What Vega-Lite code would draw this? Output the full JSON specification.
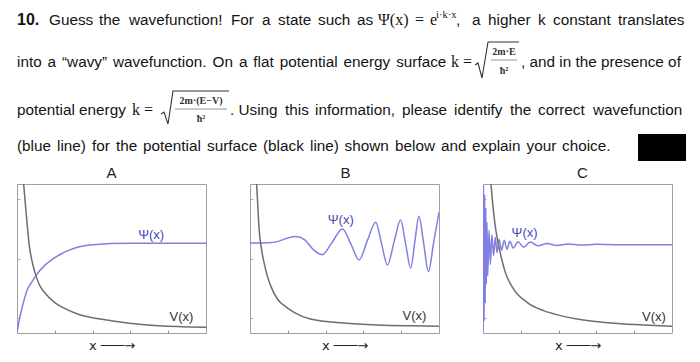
{
  "$schema": "https://vega.github.io/schema/vega-lite/v6.json",
  "padding": 0,
  "background": "white",
  "spacing": 0,
  "config": {"view": {"stroke": null}, "font": "Liberation Sans"},
  "datasets": {
    "sans": [
      {"x": 48, "y": 20, "t": "Guess"},
      {"x": 98, "y": 20, "t": "the"},
      {"x": 128, "y": 20, "t": "wavefunction!"},
      {"x": 230, "y": 20, "t": "For"},
      {"x": 261, "y": 20, "t": "a"},
      {"x": 277, "y": 20, "t": "state"},
      {"x": 317, "y": 20, "t": "such"},
      {"x": 356, "y": 20, "t": "as"},
      {"x": 455, "y": 20, "t": ","},
      {"x": 471, "y": 20, "t": "a"},
      {"x": 487, "y": 20, "t": "higher"},
      {"x": 537, "y": 20, "t": "k"},
      {"x": 552, "y": 20, "t": "constant"},
      {"x": 617, "y": 20, "t": "translates"},
      {"x": 16, "y": 62, "t": "into"},
      {"x": 46.6, "y": 62, "t": "a"},
      {"x": 61, "y": 62, "t": "“wavy”"},
      {"x": 112, "y": 62, "t": "wavefunction."},
      {"x": 211.5, "y": 62, "t": "On"},
      {"x": 238, "y": 62, "t": "a"},
      {"x": 252.3, "y": 62, "t": "flat"},
      {"x": 278.7, "y": 62, "t": "potential"},
      {"x": 342.5, "y": 62, "t": "energy"},
      {"x": 395.2, "y": 62, "t": "surface"},
      {"x": 520, "y": 62, "t": ", and in the presence of"},
      {"x": 16, "y": 110, "t": "potential energy"},
      {"x": 229, "y": 110, "t": ". Using"},
      {"x": 284, "y": 110, "t": "this"},
      {"x": 314, "y": 110, "t": "information,"},
      {"x": 401, "y": 110, "t": "please"},
      {"x": 453, "y": 110, "t": "identify"},
      {"x": 509, "y": 110, "t": "the"},
      {"x": 537, "y": 110, "t": "correct"},
      {"x": 592, "y": 110, "t": "wavefunction"},
      {"x": 16, "y": 146, "t": "(blue"},
      {"x": 56, "y": 146, "t": "line)"},
      {"x": 91, "y": 146, "t": "for"},
      {"x": 115, "y": 146, "t": "the"},
      {"x": 142, "y": 146, "t": "potential"},
      {"x": 206, "y": 146, "t": "surface"},
      {"x": 262, "y": 146, "t": "(black"},
      {"x": 309, "y": 146, "t": "line)"},
      {"x": 343.5, "y": 146, "t": "shown"},
      {"x": 394, "y": 146, "t": "below"},
      {"x": 440, "y": 146, "t": "and"},
      {"x": 471, "y": 146, "t": "explain"},
      {"x": 525.5, "y": 146, "t": "your"},
      {"x": 561, "y": 146, "t": "choice."}
    ],
    "bold": [{"x": 16, "y": 20, "t": "10."}],
    "serif": [
      {"x": 377, "y": 20, "t": "Ψ(x)"},
      {"x": 414, "y": 20, "t": "="},
      {"x": 429, "y": 20, "t": "e"},
      {"x": 450, "y": 62, "t": "k ="},
      {"x": 131, "y": 110, "t": "k ="}
    ],
    "sup": [{"x": 435, "y": 15, "t": "i·k·x"}],
    "frac": [
      {"x": 503, "y": 52, "t": "2m·E"},
      {"x": 503, "y": 71, "t": "ħ²"},
      {"x": 200, "y": 101, "t": "2m·(E−V)"},
      {"x": 200, "y": 119, "t": "ħ²"}
    ],
    "bars": [
      {"x": 490, "x2": 516, "y": 60},
      {"x": 174, "x2": 226, "y": 109}
    ],
    "radicals": [
      {"r": "a", "o": 0, "x": 474, "y": 65},
      {"r": "a", "o": 1, "x": 477, "y": 63},
      {"r": "a", "o": 2, "x": 481, "y": 78},
      {"r": "a", "o": 3, "x": 487, "y": 42},
      {"r": "a", "o": 4, "x": 518, "y": 42},
      {"r": "b", "o": 0, "x": 160, "y": 114},
      {"r": "b", "o": 1, "x": 163, "y": 112},
      {"r": "b", "o": 2, "x": 167, "y": 124},
      {"r": "b", "o": 3, "x": 172, "y": 91},
      {"r": "b", "o": 4, "x": 228, "y": 91}
    ],
    "box": [{"x": 637, "x2": 685, "y": 134, "y2": 161}],
    "curvesA": [
      {"s": "psi", "x": 0, "y": 0}, {"s": "psi", "x": 0.1, "y": 0.75}, {"s": "psi", "x": 0.21, "y": 1.39},
      {"s": "psi", "x": 0.35, "y": 2.1}, {"s": "psi", "x": 0.56, "y": 2.95}, {"s": "psi", "x": 0.8, "y": 3.45},
      {"s": "psi", "x": 1.0, "y": 3.85}, {"s": "psi", "x": 1.45, "y": 4.52}, {"s": "psi", "x": 1.9, "y": 4.98},
      {"s": "psi", "x": 2.33, "y": 5.3}, {"s": "psi", "x": 2.8, "y": 5.58}, {"s": "psi", "x": 3.2, "y": 5.75},
      {"s": "psi", "x": 4.1, "y": 5.93}, {"s": "psi", "x": 4.97, "y": 6.0}, {"s": "psi", "x": 6, "y": 6.02},
      {"s": "psi", "x": 8, "y": 6.02}, {"s": "psi", "x": 10, "y": 6.02},
      {"s": "V", "x": 0.35, "y": 10}, {"s": "V", "x": 0.42, "y": 9.0}, {"s": "V", "x": 0.48, "y": 8.1},
      {"s": "V", "x": 0.56, "y": 7.0}, {"s": "V", "x": 0.65, "y": 5.86}, {"s": "V", "x": 0.8, "y": 4.8},
      {"s": "V", "x": 1.0, "y": 3.85}, {"s": "V", "x": 1.2, "y": 3.2}, {"s": "V", "x": 1.45, "y": 2.73},
      {"s": "V", "x": 1.98, "y": 2.06}, {"s": "V", "x": 2.6, "y": 1.6}, {"s": "V", "x": 3.2, "y": 1.28},
      {"s": "V", "x": 4.0, "y": 1.02}, {"s": "V", "x": 4.97, "y": 0.83}, {"s": "V", "x": 6.74, "y": 0.56},
      {"s": "V", "x": 8.5, "y": 0.43}, {"s": "V", "x": 10, "y": 0.38}
    ],
    "curvesB": [
      {"s": "psi", "x": 0, "y": 6.04}, {"s": "psi", "x": 0.5, "y": 6.04}, {"s": "psi", "x": 1.0, "y": 6.05},
      {"s": "psi", "x": 1.5, "y": 6.15}, {"s": "psi", "x": 2.0, "y": 6.38}, {"s": "psi", "x": 2.42, "y": 6.47},
      {"s": "psi", "x": 2.9, "y": 6.25}, {"s": "psi", "x": 3.35, "y": 5.6}, {"s": "psi", "x": 3.83, "y": 5.26},
      {"s": "psi", "x": 4.35, "y": 6.1}, {"s": "psi", "x": 4.89, "y": 6.98}, {"s": "psi", "x": 5.33, "y": 6.0},
      {"s": "psi", "x": 5.77, "y": 4.9}, {"s": "psi", "x": 6.21, "y": 6.2}, {"s": "psi", "x": 6.65, "y": 7.43},
      {"s": "psi", "x": 6.96, "y": 6.0}, {"s": "psi", "x": 7.27, "y": 4.56}, {"s": "psi", "x": 7.62, "y": 6.1},
      {"s": "psi", "x": 7.97, "y": 7.58}, {"s": "psi", "x": 8.24, "y": 5.95}, {"s": "psi", "x": 8.5, "y": 4.34},
      {"s": "psi", "x": 8.72, "y": 6.1}, {"s": "psi", "x": 8.94, "y": 7.83}, {"s": "psi", "x": 9.19, "y": 6.0},
      {"s": "psi", "x": 9.44, "y": 4.12}, {"s": "psi", "x": 9.72, "y": 6.1}, {"s": "psi", "x": 10, "y": 8.1},
      {"s": "V", "x": 0.35, "y": 10}, {"s": "V", "x": 0.42, "y": 8.4}, {"s": "V", "x": 0.48, "y": 7.0},
      {"s": "V", "x": 0.6, "y": 5.7}, {"s": "V", "x": 0.74, "y": 4.74}, {"s": "V", "x": 0.9, "y": 3.9},
      {"s": "V", "x": 1.09, "y": 3.18}, {"s": "V", "x": 1.45, "y": 2.28}, {"s": "V", "x": 1.9, "y": 1.75},
      {"s": "V", "x": 2.33, "y": 1.39}, {"s": "V", "x": 3.2, "y": 0.94}, {"s": "V", "x": 4.97, "y": 0.67},
      {"s": "V", "x": 6.74, "y": 0.54}, {"s": "V", "x": 8.5, "y": 0.48}, {"s": "V", "x": 10, "y": 0.45}
    ],
    "curvesC": [
      {"s": "psi", "x": 0, "y": 0.2}, {"s": "psi", "x": 0.03, "y": 9.9}, {"s": "psi", "x": 0.06, "y": 0.8},
      {"s": "psi", "x": 0.09, "y": 9.3}, {"s": "psi", "x": 0.12, "y": 2.0}, {"s": "psi", "x": 0.15, "y": 8.4},
      {"s": "psi", "x": 0.18, "y": 3.3}, {"s": "psi", "x": 0.21, "y": 7.43}, {"s": "psi", "x": 0.25, "y": 3.85},
      {"s": "psi", "x": 0.32, "y": 6.9}, {"s": "psi", "x": 0.39, "y": 4.6}, {"s": "psi", "x": 0.47, "y": 6.6},
      {"s": "psi", "x": 0.56, "y": 5.2}, {"s": "psi", "x": 0.65, "y": 6.42}, {"s": "psi", "x": 0.74, "y": 5.4},
      {"s": "psi", "x": 0.85, "y": 6.3}, {"s": "psi", "x": 0.98, "y": 5.55}, {"s": "psi", "x": 1.12, "y": 6.22},
      {"s": "psi", "x": 1.27, "y": 5.62}, {"s": "psi", "x": 1.42, "y": 6.15}, {"s": "psi", "x": 1.6, "y": 5.7},
      {"s": "psi", "x": 1.85, "y": 6.12}, {"s": "psi", "x": 2.15, "y": 5.75}, {"s": "psi", "x": 2.5, "y": 6.1},
      {"s": "psi", "x": 2.9, "y": 5.85}, {"s": "psi", "x": 3.4, "y": 6.0}, {"s": "psi", "x": 3.9, "y": 5.87},
      {"s": "psi", "x": 4.5, "y": 5.97}, {"s": "psi", "x": 5.2, "y": 5.9}, {"s": "psi", "x": 6, "y": 5.95},
      {"s": "psi", "x": 7, "y": 5.93}, {"s": "psi", "x": 10, "y": 5.93},
      {"s": "V", "x": 0.42, "y": 10}, {"s": "V", "x": 0.49, "y": 9.0}, {"s": "V", "x": 0.56, "y": 8.1},
      {"s": "V", "x": 0.68, "y": 6.9}, {"s": "V", "x": 0.83, "y": 5.86}, {"s": "V", "x": 1.0, "y": 4.9},
      {"s": "V", "x": 1.18, "y": 4.07}, {"s": "V", "x": 1.62, "y": 2.95}, {"s": "V", "x": 2.33, "y": 2.06},
      {"s": "V", "x": 3.2, "y": 1.5}, {"s": "V", "x": 4.0, "y": 1.2}, {"s": "V", "x": 4.97, "y": 0.94},
      {"s": "V", "x": 6.74, "y": 0.67}, {"s": "V", "x": 8.5, "y": 0.54}, {"s": "V", "x": 10, "y": 0.45}
    ],
    "labelsA": [{"s": "psi", "x": 7.1, "y": 6.6, "t": "Ψ(x)"}, {"s": "V", "x": 8.7, "y": 1.05, "t": "V(x)"}],
    "labelsB": [{"s": "psi", "x": 4.8, "y": 7.6, "t": "Ψ(x)"}, {"s": "V", "x": 8.7, "y": 1.12, "t": "V(x)"}],
    "labelsC": [{"s": "psi", "x": 2.2, "y": 6.7, "t": "Ψ(x)"}, {"s": "V", "x": 9.05, "y": 1.1, "t": "V(x)"}]
  },
  "vconcat": [
    {
      "width": 684,
      "height": 165,
      "encoding": {
        "x": {"field": "x", "type": "quantitative", "scale": {"domain": [16, 700], "nice": false, "zero": false}, "axis": null},
        "y": {"field": "y", "type": "quantitative", "scale": {"domain": [0, 165], "nice": false, "zero": false, "reverse": true}, "axis": null}
      },
      "layer": [
        {"data": {"name": "sans"}, "mark": {"type": "text", "align": "left", "baseline": "middle", "font": "Liberation Sans", "fontSize": 15.3, "color": "#141414"}, "encoding": {"text": {"field": "t"}}},
        {"data": {"name": "bold"}, "mark": {"type": "text", "align": "left", "baseline": "middle", "font": "Liberation Sans", "fontSize": 16, "fontWeight": "bold", "color": "#141414"}, "encoding": {"text": {"field": "t"}}},
        {"data": {"name": "serif"}, "mark": {"type": "text", "align": "left", "baseline": "middle", "font": "Liberation Serif", "fontSize": 16, "color": "#141414"}, "encoding": {"text": {"field": "t"}}},
        {"data": {"name": "sup"}, "mark": {"type": "text", "align": "left", "baseline": "middle", "font": "Liberation Serif", "fontSize": 10.5, "color": "#141414"}, "encoding": {"text": {"field": "t"}}},
        {"data": {"name": "frac"}, "mark": {"type": "text", "align": "center", "baseline": "middle", "font": "Liberation Serif", "fontSize": 10, "fontWeight": "bold", "color": "#333"}, "encoding": {"text": {"field": "t"}}},
        {"data": {"name": "bars"}, "mark": {"type": "rule", "color": "#666", "strokeWidth": 0.7}, "encoding": {"x2": {"field": "x2"}}},
        {"data": {"name": "radicals"}, "mark": {"type": "line", "color": "#333", "strokeWidth": 1.1}, "encoding": {"detail": {"field": "r"}, "order": {"field": "o"}}},
        {"data": {"name": "box"}, "mark": {"type": "rect", "color": "#000"}, "encoding": {"x2": {"field": "x2"}, "y2": {"field": "y2"}}}
      ]
    },
    {
      "spacing": 26,
      "hconcat": [
        {
          "width": 189, "height": 149,
          "title": {"text": "A", "fontSize": 15, "fontWeight": "normal", "offset": 3, "color": "#222", "font": "Liberation Sans"},
          "view": {"stroke": "#a0a0a0", "strokeWidth": 1},
          "layer": [
            {"data": {"name": "curvesA"}, "mark": {"type": "line", "interpolate": "monotone", "strokeWidth": 1.5, "clip": true},
             "encoding": {
               "x": {"field": "x", "type": "quantitative", "scale": {"domain": [0, 10], "nice": false}, "axis": {"title": "x ───→", "titleFont": "DejaVu Sans", "labels": false, "domain": false, "grid": false, "tickSize": -3, "values": [2, 4, 6, 8], "tickColor": "#999", "titleFontWeight": "normal", "titleFontSize": 13, "titlePadding": 6, "titleColor": "#222"}},
               "y": {"field": "y", "type": "quantitative", "scale": {"domain": [0, 10], "nice": false}, "axis": {"title": null, "labels": false, "domain": false, "grid": false, "tickSize": -3, "values": [1, 2, 3, 4, 5, 6, 7, 8, 9], "tickColor": "#aaa", "minExtent": 16, "maxExtent": 16}},
               "color": {"field": "s", "type": "nominal", "scale": {"domain": ["psi", "V"], "range": ["#8080e2", "#6e6e6e"]}, "legend": null}
             }},
            {"data": {"name": "labelsA"}, "transform": [{"filter": "datum.s == 'psi'"}], "mark": {"type": "text", "fontSize": 13, "color": "#4848b8"}, "encoding": {"x": {"field": "x", "type": "quantitative"}, "y": {"field": "y", "type": "quantitative"}, "text": {"field": "t"}}},
            {"data": {"name": "labelsA"}, "transform": [{"filter": "datum.s == 'V'"}], "mark": {"type": "text", "fontSize": 13, "color": "#333"}, "encoding": {"x": {"field": "x", "type": "quantitative"}, "y": {"field": "y", "type": "quantitative"}, "text": {"field": "t"}}}
          ]
        },
        {
          "width": 189, "height": 149,
          "title": {"text": "B", "fontSize": 15, "fontWeight": "normal", "offset": 3, "dx": 1, "color": "#222", "font": "Liberation Sans"},
          "view": {"stroke": "#a0a0a0", "strokeWidth": 1},
          "layer": [
            {"data": {"name": "curvesB"}, "mark": {"type": "line", "interpolate": "monotone", "strokeWidth": 1.5, "clip": true},
             "encoding": {
               "x": {"field": "x", "type": "quantitative", "scale": {"domain": [0, 10], "nice": false}, "axis": {"title": "x ───→", "titleFont": "DejaVu Sans", "labels": false, "domain": false, "grid": false, "tickSize": -3, "values": [2, 4, 6, 8], "tickColor": "#999", "titleFontWeight": "normal", "titleFontSize": 13, "titlePadding": 6, "titleColor": "#222"}},
               "y": {"field": "y", "type": "quantitative", "scale": {"domain": [0, 10], "nice": false}, "axis": {"title": null, "labels": false, "domain": false, "grid": false, "tickSize": -3, "values": [1, 2, 3, 4, 5, 6, 7, 8, 9], "tickColor": "#aaa", "minExtent": 16, "maxExtent": 16}},
               "color": {"field": "s", "type": "nominal", "scale": {"domain": ["psi", "V"], "range": ["#8080e2", "#6e6e6e"]}, "legend": null}
             }},
            {"data": {"name": "labelsB"}, "transform": [{"filter": "datum.s == 'psi'"}], "mark": {"type": "text", "fontSize": 13, "color": "#4848b8"}, "encoding": {"x": {"field": "x", "type": "quantitative"}, "y": {"field": "y", "type": "quantitative"}, "text": {"field": "t"}}},
            {"data": {"name": "labelsB"}, "transform": [{"filter": "datum.s == 'V'"}], "mark": {"type": "text", "fontSize": 13, "color": "#333"}, "encoding": {"x": {"field": "x", "type": "quantitative"}, "y": {"field": "y", "type": "quantitative"}, "text": {"field": "t"}}}
          ]
        },
        {
          "width": 189, "height": 149,
          "title": {"text": "C", "fontSize": 15, "fontWeight": "normal", "offset": 3, "dx": 5, "color": "#222", "font": "Liberation Sans"},
          "view": {"stroke": "#a0a0a0", "strokeWidth": 1},
          "layer": [
            {"data": {"name": "curvesC"}, "mark": {"type": "line", "interpolate": "monotone", "strokeWidth": 1.5, "clip": true},
             "encoding": {
               "x": {"field": "x", "type": "quantitative", "scale": {"domain": [0, 10], "nice": false}, "axis": {"title": "x ───→", "titleFont": "DejaVu Sans", "labels": false, "domain": false, "grid": false, "tickSize": -3, "values": [2, 4, 6, 8], "tickColor": "#999", "titleFontWeight": "normal", "titleFontSize": 13, "titlePadding": 6, "titleColor": "#222"}},
               "y": {"field": "y", "type": "quantitative", "scale": {"domain": [0, 10], "nice": false}, "axis": {"title": null, "labels": false, "domain": false, "grid": false, "tickSize": -3, "values": [1, 2, 3, 4, 5, 6, 7, 8, 9], "tickColor": "#aaa", "minExtent": 16, "maxExtent": 16}},
               "color": {"field": "s", "type": "nominal", "scale": {"domain": ["psi", "V"], "range": ["#8080e2", "#6e6e6e"]}, "legend": null}
             }},
            {"data": {"name": "labelsC"}, "transform": [{"filter": "datum.s == 'psi'"}], "mark": {"type": "text", "fontSize": 13, "color": "#4848b8"}, "encoding": {"x": {"field": "x", "type": "quantitative"}, "y": {"field": "y", "type": "quantitative"}, "text": {"field": "t"}}},
            {"data": {"name": "labelsC"}, "transform": [{"filter": "datum.s == 'V'"}], "mark": {"type": "text", "fontSize": 13, "color": "#333"}, "encoding": {"x": {"field": "x", "type": "quantitative"}, "y": {"field": "y", "type": "quantitative"}, "text": {"field": "t"}}}
          ]
        }
      ]
    }
  ]
}
